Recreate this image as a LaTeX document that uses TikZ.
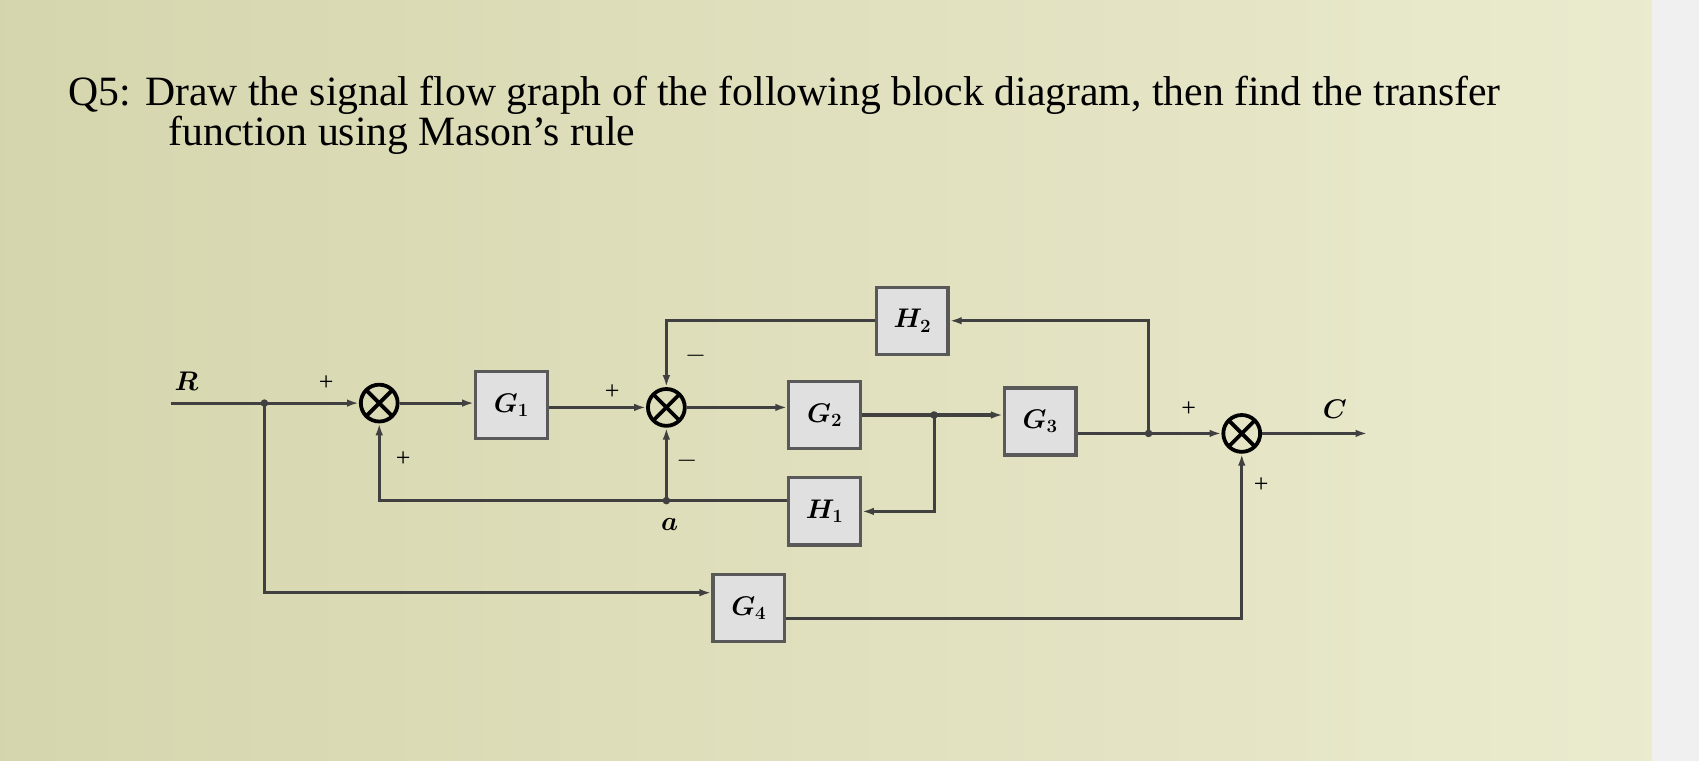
\documentclass[tikz,border=0pt]{standalone}
\usepackage{fontspec}
\setmainfont{Liberation Serif}
\usetikzlibrary{arrows.meta}
\begin{document}
\begin{tikzpicture}[x=1pt,y=-1pt,
  line/.style={draw=black!75,line width=2.8pt},
  arr/.style={line,-{Latex[length=11pt,width=7pt]}},
  blk/.style={draw=black!65,line width=3pt,fill=black!12!white,minimum width=66pt,minimum height=62pt,font=\fontsize{24}{26}\selectfont\boldmath},
  sumj/.style={circle,draw=black,line width=3.5pt,minimum size=34pt,inner sep=0pt,path picture={\draw[line width=3.5pt] (path picture bounding box.north west)--(path picture bounding box.south east) (path picture bounding box.north east)--(path picture bounding box.south west);}},
  sgn/.style={font=\fontsize{24}{26}\selectfont},
  lbl/.style={font=\fontsize{24}{26}\selectfont\boldmath}]
\fill[left color=black!8!yellow!20!white!85!black,right color=yellow!12!white!92!black] (0,0) rectangle (1525,702);
\fill[black!6!white] (1525,0) rectangle (1568,702);
\useasboundingbox (0,0) rectangle (1568,702);
\node[anchor=base west,font=\fontsize{38.5}{40}\selectfont] (t1) at (60,97) {Q5: Draw the signal flow graph of the following block diagram, then find the transfer};
\node[anchor=base west,font=\fontsize{38.5}{40}\selectfont] (t2) at (152,134) {function using Mason's rule};
% blocks
\node[blk] (G1) at (472,374) {$G_1$};
\node[blk] (G2) at (761,383) {$G_2$};
\node[blk] (G3) at (960,389) {$G_3$};
\node[blk] (H2) at (842,296) {$H_2$};
\node[blk] (H1) at (761,472) {$H_1$};
\node[blk] (G4) at (691,561) {$G_4$};
\node[sumj] (S1) at (350,372) {};
\node[sumj] (S2) at (615,376) {};
\node[sumj] (S3) at (1146,400) {};
% coordinates
\coordinate (Rin) at (158,372);
\coordinate (b1) at (244,372);
\coordinate (a) at (615,462);
\coordinate (b2) at (862,383);
\coordinate (b3) at (1060,400);
\coordinate (Cout) at (1262,400);
\node[lbl] (R) at (172,352) {$R$};
\node[lbl] (C) at (1232,378) {$C$};
\node[lbl] (alab) at (618,484) {$a$};
\node[sgn] (p1) at (301,354) {+};
\node[sgn] (p2) at (372,424) {+};
\node[sgn] (p3) at (565,362) {+};
\node[sgn] (m1) at (642,328) {$-$};
\node[sgn] (m2) at (634,425) {$-$};
\node[sgn] (p4) at (1097,378) {+};
\node[sgn] (p5) at (1164,448) {+};
% connectors
\draw[arr] (Rin) -- (b1) -- (S1.west);
\draw[arr] (b1) |- (G4.west|-0,547);
\draw[arr] (G4.east|-0,571) -| (S3.south);
\draw[arr] (S1.east) -- (S1.east-|G1.west);
\draw[arr] (G1.east|-S2.west) -- (S2.west);
\draw[arr] (S2.east) -- (S2.east-|G2.west);
\draw[line] (G2.east|-b2) -- (b2);
\draw[arr] (b2) -- (G3.west|-b2);
\draw[arr] (b2) |- (H1.east);
\draw[line] (H1.west|-a) -- (a);
\draw[arr] (a) -- (S2.south);
\draw[arr] (a) -| (S1.south);
\draw[line] (G3.east|-b3) -- (b3);
\draw[arr] (b3) -- (S3.west);
\draw[arr] (b3) |- (H2.east);
\draw[arr] (H2.west) -| (S2.north);
\draw[arr] (S3.east) -- (Cout);
\fill[black!75] (b1) circle (3.5pt) (b2) circle (3.5pt) (b3) circle (3.5pt) (a) circle (3.5pt);
\end{tikzpicture}
\end{document}
